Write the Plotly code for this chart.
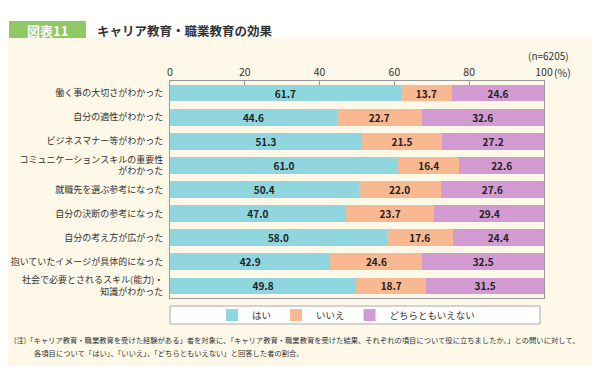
import plotly.graph_objects as go

categories = [
    "働く事の大切さがわかった",
    "自分の適性がわかった",
    "ビジネスマナー等がわかった",
    "コミュニケーションスキルの重要性<br>がわかった",
    "就職先を選ぶ参考になった",
    "自分の決断の参考になった",
    "自分の考え方が広がった",
    "抱いていたイメージが具体的になった",
    "社会で必要とされるスキル(能力)・<br>知識がわかった",
]
hai = [61.7, 44.6, 51.3, 61.0, 50.4, 47.0, 58.0, 42.9, 49.8]
iie = [13.7, 22.7, 21.5, 16.4, 22.0, 23.7, 17.6, 24.6, 18.7]
dochira = [24.6, 32.6, 27.2, 22.6, 27.6, 29.4, 24.4, 32.5, 31.5]
series_names = ["はい", "いいえ", "どちらともいえない"]
tick_vals = [0, 20, 40, 60, 80, 100]
tick_text = ["0", "20", "40", "60", "80", "100"]

FONT = "Noto Sans CJK JP"
colors = ["#8fd6df", "#f8b891", "#d29cd3"]

# plot area in pixels
L, R, T, B = 170, 544, 81, 298
W, H = 600, 373

def px_x(p):
    return (p - L) / (R - L)

def px_y(p):
    return (B - p) / (B - T)

fig = go.Figure()
for name, vals, c in zip(series_names, [hai, iie, dochira], colors):
    fig.add_trace(go.Bar(
        y=categories, x=vals, name=name, orientation="h",
        marker=dict(color=c, line=dict(width=0)),
        text=[f"{v:.1f}" for v in vals], textposition="inside",
        insidetextanchor="middle", constraintext="none",
        textfont=dict(family=FONT, size=10, color="#222222", weight="bold"),
        width=0.7,
    ))

shapes = [
    dict(type="rect", xref="paper", yref="paper", x0=px_x(8), x1=px_x(592),
         y0=px_y(366), y1=px_y(37), fillcolor="#fdf8e8", line=dict(width=0), layer="below"),
    dict(type="rect", xref="paper", yref="paper", x0=px_x(9), x1=px_x(86),
         y0=px_y(38), y1=px_y(21), fillcolor="#8fc865", line=dict(width=0), layer="below"),
    dict(type="rect", xref="paper", yref="paper", x0=px_x(170), x1=px_x(540),
         y0=px_y(324), y1=px_y(306), fillcolor="white", line=dict(color="#aaaaaa", width=1), layer="below"),
]

annotations = [
    dict(text="<b>図表11</b>", x=px_x(47), y=px_y(30), xref="paper", yref="paper",
         showarrow=False, font=dict(family=FONT, size=13, color="white"), xanchor="center", yanchor="middle"),
    dict(text="<b>キャリア教育・職業教育の効果</b>", x=px_x(95), y=px_y(30), xref="paper", yref="paper",
         showarrow=False, font=dict(family=FONT, size=12.5, color="#333333"), xanchor="left", yanchor="middle"),
    dict(text="(n=6205)", x=px_x(571), y=px_y(56), xref="paper", yref="paper",
         showarrow=False, font=dict(family=FONT, size=10, color="#333333"), xanchor="right", yanchor="middle"),
    dict(text="(%)", x=px_x(552), y=px_y(73), xref="paper", yref="paper",
         showarrow=False, font=dict(family=FONT, size=10.5, color="#333333"), xanchor="left", yanchor="middle"),
    dict(text="(注)「キャリア教育・職業教育を受けた経験がある」者を対象に、「キャリア教育・職業教育を受けた結果、それぞれの項目について役に立ちましたか。」との問いに対して、",
         x=px_x(12), y=px_y(340), xref="paper", yref="paper", showarrow=False,
         font=dict(family=FONT, size=7.3, color="#333333"), xanchor="left", yanchor="middle"),
    dict(text="各項目について「はい」、「いいえ」、「どちらともいえない」と回答した者の割合。",
         x=px_x(32), y=px_y(353), xref="paper", yref="paper", showarrow=False,
         font=dict(family=FONT, size=7.3, color="#333333"), xanchor="left", yanchor="middle"),
]

fig.update_layout(
    width=W, height=H,
    margin=dict(l=L, r=W - R, t=T, b=H - B, pad=0),
    barmode="stack", bargap=0.3,
    paper_bgcolor="white", plot_bgcolor="white",
    font=dict(family=FONT, color="#333333"),
    showlegend=True,
    legend=dict(orientation="h", x=px_x(212), y=px_y(315), xanchor="left", yanchor="middle",
                bgcolor="rgba(0,0,0,0)", font=dict(family=FONT, size=9.5, color="#333333"),
                itemwidth=30, traceorder="normal"),
    xaxis=dict(side="top", range=[0, 100], tickvals=tick_vals, ticktext=tick_text,
               showgrid=False, zeroline=False, showline=True, mirror=True, automargin=False,
               linecolor="#999999", linewidth=1, ticks="inside", ticklen=4, tickcolor="#999999",
               tickfont=dict(family=FONT, size=10.5, color="#333333")),
    yaxis=dict(autorange="reversed", showgrid=False, zeroline=False, showline=True, mirror=True,
               automargin=False,
               linecolor="#999999", linewidth=1, ticks="", ticklabelstandoff=4,
               tickfont=dict(family=FONT, size=9, color="#333333")),
    shapes=shapes, annotations=annotations,
)

fig.write_html("out.html", config={"displayModeBar": False},
               post_script="document.body.style.margin='0';")
